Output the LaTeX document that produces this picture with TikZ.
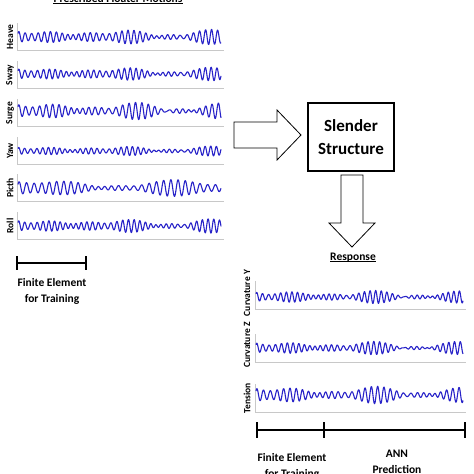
\documentclass[tikz,border=0pt]{standalone}
\usepackage{fontspec}
\setmainfont{Carlito}
\definecolor{wblue}{RGB}{40,35,200}
\definecolor{axgray}{RGB}{200,200,200}
\newcommand\mywave[9]{%
  \draw[wave] plot[domain=0:#2, samples=520] ({#1+\x}, {#3 - (#4*sin(#5*\x) + #6*sin(#7*\x+40) + #8*sin(#9*\x+110))});}
\begin{document}
\begin{tikzpicture}[x=1pt,y=-1pt,
  wave/.style={draw=wblue, line width=1.1pt, line join=round},
  axisline/.style={draw=axgray, line width=0.9pt},
  lbl/.style={font=\bfseries\fontsize{9.5}{10}\selectfont, rotate=90, inner sep=0pt},
  captxt/.style={font=\bfseries\fontsize{11.5}{16}\selectfont, align=center, inner sep=0pt},
  bar/.style={line width=1.3pt},
  blockarrow/.style={draw, line width=0.8pt, fill=white, line join=miter}]
\useasboundingbox (0,0) rectangle (474,474);

% title
\node[captxt, anchor=base] (title) at (118,2) {Prescribed Floater Motions};
\draw[line width=0.7pt] ([yshift=-1.5pt]title.base west) -- ([yshift=-1.5pt]title.base east);

% left panels
\foreach \b/\name in {50/Heave, 88/Sway, 126/Surge, 164/Yaw, 201/Picth, 239/Roll}{
  \draw[axisline] (17,\b-27) -- (17,\b) -- (224,\b);
  \node[lbl] at (10,\b-13) {\name};
}
\mywave{18}{203}{37}{3.0}{60}{2.6}{56}{2.0}{65}
\mywave{18}{203}{74}{2.6}{62}{2.4}{58}{1.8}{67}
\mywave{18}{203}{111}{3.4}{56}{3.0}{52.5}{2.4}{61}
\mywave{18}{203}{151}{1.8}{64}{1.8}{60}{1.4}{69}
\mywave{18}{203}{188}{3.6}{50}{3.0}{47.5}{1.8}{54}
\mywave{18}{203}{226}{2.8}{63}{2.4}{59}{2.0}{68}

% left bar
\coordinate (la) at (17,263);
\coordinate (lb) at (86,263);
\draw[bar] (la) -- (lb);
\draw[bar] ([yshift=7pt]la) -- ([yshift=-7pt]la);
\draw[bar] ([yshift=7pt]lb) -- ([yshift=-7pt]lb);
\node[captxt] (fe1) at (52,291) {Finite Element\\for Training};

% structure box
\node[draw, line width=1.1pt, minimum width=86pt, minimum height=68pt, align=center,
      font=\bfseries\fontsize{17}{23}\selectfont, inner sep=0pt] (box) at (351,137) {Slender\\Structure};

% right arrow
\draw[blockarrow] (234,122) -- (277,122) -- (277,110) -- (301,135) -- (277,160) -- (277,148) -- (234,148) -- cycle;
% down arrow
\draw[blockarrow] (341,175) -- (363,175) -- (363,223) -- (375,223) -- (352,247) -- (329,223) -- (341,223) -- cycle;

% response
\node[captxt, anchor=base] (resp) at (353,260) {Response};
\draw[line width=0.7pt] ([yshift=-1.5pt]resp.base west) -- ([yshift=-1.5pt]resp.base east);

% right panels
\foreach \b/\c/\name in {309/293/Curvature Y, 362/345/Curvature Z, 412/398/Tension}{
  \draw[axisline] (255,\b-28) -- (255,\b) -- (466,\b);
  \node[lbl] at (247,\c) {\name};
}
\mywave{256}{207}{297}{2.4}{64}{2.2}{60.5}{2.0}{69}
\mywave{256}{207}{348}{2.6}{62}{2.3}{58.4}{1.9}{67}
\mywave{256}{207}{395}{3.6}{57}{3.0}{53.6}{2.2}{62}

% right bar
\coordinate (ra) at (257,430);
\coordinate (rm) at (324,430);
\coordinate (rb) at (465,430);
\draw[bar] (ra) -- (rb);
\foreach \p in {ra,rm,rb}{\draw[bar] ([yshift=8pt]\p) -- ([yshift=-8pt]\p);}
\node[captxt] (fe2) at (292,466) {Finite Element\\for Training};
\node[captxt] (ann) at (397,462) {ANN\\Prediction};
\end{tikzpicture}
\end{document}
